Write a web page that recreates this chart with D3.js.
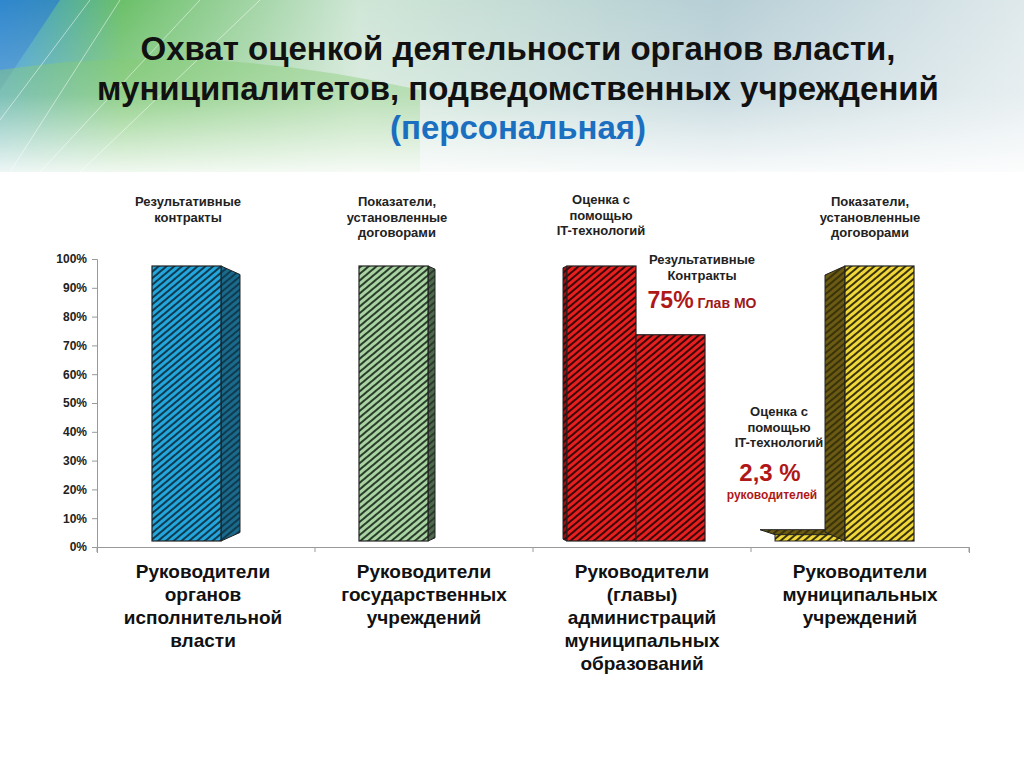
<!DOCTYPE html>
<html><head><meta charset="utf-8">
<script src="https://cdn.jsdelivr.net/npm/d3@7"></script>
<style>body{margin:0;background:#fff}svg{display:block}</style>
</head><body>
<script>
const categories = ["Руководители органов исполнительной власти","Руководители государственных учреждений","Руководители (главы) администраций муниципальных образований","Руководители муниципальных учреждений"];
const catLines = [["Руководители","органов","исполнительной","власти"],["Руководители","государственных","учреждений"],["Руководители","(главы)","администраций","муниципальных","образований"],["Руководители","муниципальных","учреждений"]];
const barCat = [0,1,2,2,3,3];
const barValues = [100,100,100,75,2.3,100];
const barNames = ["Результативные контракты","Показатели, установленные договорами","Оценка с помощью IT-технологий","Результативные Контракты","Оценка с помощью IT-технологий","Показатели, установленные договорами"];
const yTicks = [0,10,20,30,40,50,60,70,80,90,100];

const W=1024,H=768;
const svg=d3.select("body").append("svg").attr("width",W).attr("height",H);
const defs=svg.append("defs");
const bg=defs.append("linearGradient").attr("id","bg").attr("x1",0).attr("x2",1).attr("y1",0).attr("y2",0);
[[0,"#3a9ad8"],[0.12,"#6cc06a"],[0.35,"#cfe6d6"],[0.7,"#b7cfd6"],[1,"#dfe9ec"]].forEach(s=>bg.append("stop").attr("offset",s[0]).attr("stop-color",s[1]));
const fade=defs.append("linearGradient").attr("id","fade").attr("x1",0).attr("x2",0).attr("y1",0).attr("y2",1);
[[0,"#fff",0],[0.55,"#fff",0.25],[1,"#fff",0.9]].forEach(s=>fade.append("stop").attr("offset",s[0]).attr("stop-color",s[1]).attr("stop-opacity",s[2]));
svg.append("rect").attr("width",W).attr("height",172).attr("fill","url(#bg)");
svg.append("path").attr("d","M0,0 L60,0 L0,90Z").attr("fill","#2b7fc9").attr("opacity",0.7);
svg.append("path").attr("d","M0,70 Q200,40 420,90 L420,172 L0,172Z").attr("fill","#6fc25b").attr("opacity",0.45);
svg.append("rect").attr("width",W).attr("height",172).attr("fill","url(#fade)");
["M10,172 L120,0","M40,172 L200,0","M80,172 L260,0","M0,120 L90,0"].forEach(d=>svg.append("path").attr("d",d).attr("stroke","#fff").attr("stroke-opacity",0.5).attr("fill","none"));

const tf="'Liberation Sans Narrow','Liberation Sans',Arial,sans-serif";
const title=[["Охват оценкой деятельности органов власти,","#111",60],["муниципалитетов, подведомственных учреждений","#111",100],["(персональная)","#1a6fc0",139]];
title.forEach(t=>svg.append("text").attr("x",518).attr("y",t[2]).attr("text-anchor","middle")
  .attr("font-family",tf).attr("font-weight","bold").attr("font-size",33).attr("fill",t[1]).text(t[0]));

const x=d3.scaleBand().domain(d3.range(4)).range([97,969]);
const y=d3.scaleLinear().domain([0,100]).range([547,259]);
const yb=d3.scaleLinear().domain([0,100]).range([541,266]);
const ax=svg.append("g").attr("transform","translate(97,0)")
  .call(d3.axisLeft(y).tickValues(yTicks).tickFormat(d=>d+"%").tickSize(5));
ax.select(".domain").attr("stroke","#999");
ax.selectAll(".tick line").attr("stroke","#999");
ax.selectAll("text").attr("font-family","'Liberation Sans',Arial").attr("font-weight","bold").attr("font-size",12).attr("fill","#222").attr("dx",-2);
const xa=svg.append("g").attr("transform","translate(0,547)").call(d3.axisBottom(x).tickSize(6).tickFormat(""));
xa.select(".domain").attr("stroke","#999");
xa.selectAll(".tick").remove();
[...d3.range(4).map(i=>x(i)),969].forEach(v=>xa.append("line").attr("x1",v).attr("x2",v).attr("y1",0).attr("y2",5).attr("stroke","#999"));
catLines.forEach((ls,i)=>{
  const cx=x(i)+x.bandwidth()/2+(i==0?-3:0);
  const t=svg.append("text").attr("text-anchor","middle")
    .attr("font-family",tf).attr("font-weight","bold").attr("font-size",19).attr("fill","#111");
  ls.forEach((l,k)=>t.append("tspan").attr("x",cx).attr("y",578+k*23).text(l));
});

function pat(id,bgc,fg){
  const p=defs.append("pattern").attr("id",id).attr("width",5).attr("height",5).attr("patternUnits","userSpaceOnUse").attr("patternTransform","rotate(-40)");
  p.append("rect").attr("width",5).attr("height",5).attr("fill",bgc);
  p.append("rect").attr("width",5).attr("height",2).attr("fill",fg);
}
const cols=[["#22a6dc","#103a50","#1a6a8c"],["#a9d3a3","#2a3d2a","#4f6a4f"],["#e81f1f","#3a0808","#9a1010"],["#f0d83a","#3a3208","#6a5a14"]];
cols.forEach((c,i)=>{pat("p"+i,c[0],c[1]);pat("s"+i,c[2],c[1]);});
const barOff=[55,44,34,103,24,94], barW=69, side=[19,7,-4,0,-15,-20];
const g=svg.append("g");
barValues.forEach((v,i)=>{
  const c=barCat[i], x0=x(c)+barOff[i], x1=x0+barW, top=yb(v), bot=yb(0);
  const s=side[i], ci=c;
  if(i===4){
    g.append("path").attr("d",`M${x0},${top} L${x0+s},${top-5} L${x1+s+6},${top-5} L${x1-2},${top}Z`).attr("fill","url(#s"+ci+")").attr("stroke","#222");
    g.append("rect").attr("x",x0).attr("y",top).attr("width",barW-2).attr("height",bot-top).attr("fill","url(#p"+ci+")").attr("stroke","#222");
    return;
  }
  if(s!==0){
    const xs=s>0?x1:x0, dy=Math.abs(s)*0.45;
    g.append("path").attr("d",`M${xs},${top} L${xs+s},${top+dy} L${xs+s},${bot-dy} L${xs},${bot}Z`)
      .attr("fill","url(#s"+ci+")").attr("stroke","#222").attr("stroke-width",1);
  }
  g.append("rect").attr("x",x0).attr("y",top).attr("width",barW).attr("height",bot-top)
    .attr("fill","url(#p"+ci+")").attr("stroke","#222").attr("stroke-width",1.2);
});

const af="'Liberation Sans',Arial,sans-serif";
function lbl(cx,y0,lines,size,col){
  const t=svg.append("text").attr("text-anchor","middle").attr("font-family",af).attr("font-weight","bold").attr("font-size",size).attr("fill",col||"#222");
  lines.forEach((l,k)=>t.append("tspan").attr("x",cx).attr("y",y0+k*size*1.2).text(l));
}
lbl(188,206,["Результативные","контракты"],13);
lbl(397,206,["Показатели,","установленные","договорами"],13);
lbl(601,204,["Оценка с","помощью","IT-технологий"],13);
lbl(870,206,["Показатели,","установленные","договорами"],13);
lbl(702,264,["Результативные","Контракты"],13);
const t75=svg.append("text").attr("x",702).attr("y",308).attr("text-anchor","middle").attr("font-family",af).attr("font-weight","bold").attr("fill","#b01818");
t75.append("tspan").attr("font-size",23).text("75%");
t75.append("tspan").attr("font-size",14).attr("fill","#a01818").text(" Глав МО");
lbl(779,416,["Оценка с","помощью","IT-технологий"],13);
svg.append("text").attr("x",770).attr("y",481).attr("text-anchor","middle").attr("font-family",af).attr("font-weight","bold").attr("font-size",24).attr("fill","#b01818").text("2,3 %");
svg.append("text").attr("x",772).attr("y",499).attr("text-anchor","middle").attr("font-family",af).attr("font-weight","bold").attr("font-size",12).attr("fill","#b01818").text("руководителей");
</script>
</body></html>
